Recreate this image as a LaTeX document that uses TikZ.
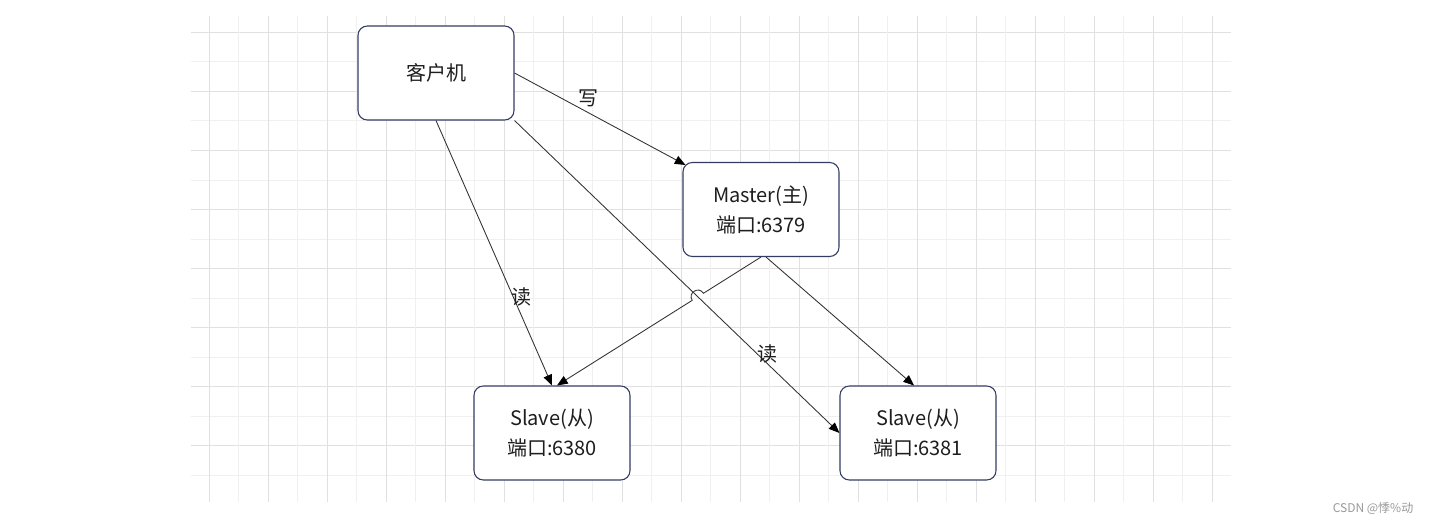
\documentclass[tikz,border=0pt]{standalone}
\usepackage{fontspec}
\setmainfont{Noto Sans CJK SC}
\usepackage{xcolor}
\usetikzlibrary{arrows.meta, calc, intersections}

\definecolor{boxline}{RGB}{52,60,100}
\definecolor{gridminor}{RGB}{240,240,240}
\definecolor{gridmajor}{RGB}{224,224,224}
\definecolor{edgegray}{RGB}{50,50,50}
\definecolor{textdark}{RGB}{30,30,30}

\begin{document}
\begin{tikzpicture}[x=0.75pt, y=-0.75pt,
  box/.style={draw=boxline, line width=0.8pt, fill=white, rounded corners=7pt, minimum width=117pt, minimum height=70.5pt, align=center, text=textdark, font=\fontsize{15}{22.5}\selectfont},
  edge label/.style={font=\fontsize{15}{16}\selectfont, text=textdark, inner sep=0pt},
  arr/.style={-{Triangle[length=8pt, width=6.5pt, color=black]}, line width=0.65pt, draw=edgegray},
]

% page
\useasboundingbox[fill=white] (0,0) rectangle (1430,524);

% grid
\foreach \k in {0,...,15} {
  \pgfmathsetmacro{\gy}{32.5+29.5*\k}
  \pgfmathtruncatemacro{\odd}{mod(\k,2)}
  \ifnum\odd=0 \def\gc{gridmajor}\else \def\gc{gridminor}\fi
  \draw[\gc, line width=0.75pt] (191,\gy) -- (1231,\gy);
}
\foreach \k in {0,...,34} {
  \pgfmathsetmacro{\gx}{209+29.5*\k}
  \pgfmathtruncatemacro{\odd}{mod(\k,2)}
  \ifnum\odd=0 \def\gc{gridmajor}\else \def\gc{gridminor}\fi
  \draw[\gc, line width=0.75pt] (\gx,16) -- (\gx,502);
}

% nodes
\node[box] (client) at (436,73) {客户机};
\node[box] (master) at (761,209.5) {Master(主)\\端口:6379};
\node[box] (slave1) at (552,433) {Slave(从)\\端口:6380};
\node[box] (slave2) at (918,433) {Slave(从)\\端口:6381};

\coordinate (mastertip) at ($(master.north west)+(3,3)$);
\coordinate (slave1tip) at ($(slave1.north)+(5,0)$);
\coordinate (masterout) at ($(master.south)+(5,0)$);
\coordinate (slave2tip) at ($(slave2.north)+(-4,0)$);

% edges
\draw[arr] (client.east) -- (mastertip) node[edge label, pos=0.43, yshift=11pt] {写};
\draw[arr] (client.south) -- (slave1.north) node[edge label, pos=0.665, xshift=6pt] {读};
\draw[arr, name path=read2] (client.south east) -- (slave2.west) node[edge label, pos=0.78, yshift=7.5pt] {读};
\draw[arr] (masterout) -- (slave2tip);

% line hop
\path[name path=sync1] (master.south) -- (slave1tip);
\path[name intersections={of=read2 and sync1, by=hop}];
\coordinate (hopA) at ($(hop)!5pt!(master.south)$);
\coordinate (hopB) at ($(hop)!5pt!(slave1tip)$);
\draw[arr] (master.south) -- (hopA)
  .. controls ($(hopA)!1.33!-90:(hop)$) and ($(hopB)!1.33!90:(hop)$) .. (hopB)
  -- (slave1tip);

% watermark
\node[font=\fontsize{9}{10}\selectfont, text=gray!80, inner sep=0pt] (mark) at (1373,508) {CSDN @悸\%动};

\end{tikzpicture}
\end{document}
